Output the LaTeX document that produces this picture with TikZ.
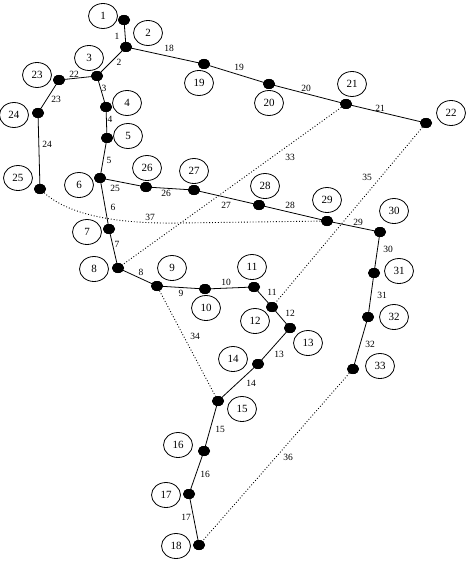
\documentclass[tikz,border=0pt]{standalone}
\usepackage{fontspec}
\setmainfont{Liberation Serif}
\usetikzlibrary{shapes.geometric}
\begin{document}
\begin{tikzpicture}[x=1pt,y=-1pt,
  bus/.style={ellipse,fill=black,minimum width=12pt,minimum height=10pt,inner sep=0pt},
  tag/.style={ellipse,draw,line width=0.8pt,minimum width=29pt,minimum height=25pt,inner sep=0pt,font=\fontsize{11}{12}\selectfont},
  br/.style={line width=0.8pt},
  tie/.style={dotted,line width=0.9pt},
  el/.style={font=\fontsize{9.5}{10}\selectfont,inner sep=0pt}]
\useasboundingbox (0,0) rectangle (474,567);
% buses
\node[bus] (b1) at (124,20) {};
\node[bus] (b2) at (126,47) {};
\node[bus] (b3) at (97,76) {};
\node[bus] (b4) at (106,107) {};
\node[bus] (b5) at (107,138) {};
\node[bus] (b6) at (100,178) {};
\node[bus] (b7) at (109,229) {};
\node[bus] (b8) at (118,268) {};
\node[bus] (b9) at (157,286) {};
\node[bus] (b10) at (205,289) {};
\node[bus] (b11) at (254,287) {};
\node[bus] (b12) at (272,307) {};
\node[bus] (b13) at (290,328) {};
\node[bus] (b14) at (258,364) {};
\node[bus] (b15) at (218,401) {};
\node[bus] (b16) at (204,451) {};
\node[bus] (b17) at (189,494) {};
\node[bus] (b18) at (199,545) {};
\node[bus] (b19) at (204,64) {};
\node[bus] (b20) at (269,84) {};
\node[bus] (b21) at (346,104) {};
\node[bus] (b22) at (426,123) {};
\node[bus] (b23) at (59,80) {};
\node[bus] (b24) at (38,113) {};
\node[bus] (b25) at (40,189) {};
\node[bus] (b26) at (146,187) {};
\node[bus] (b27) at (194,190) {};
\node[bus] (b28) at (259,205) {};
\node[bus] (b29) at (327,221) {};
\node[bus] (b30) at (380,232) {};
\node[bus] (b31) at (374,273) {};
\node[bus] (b32) at (368,317) {};
\node[bus] (b33) at (353,369) {};
% bus number tags
\node[tag] (l1) at (103,16) {1};
\node[tag] (l2) at (148,33) {2};
\node[tag] (l3) at (89,58) {3};
\node[tag] (l4) at (127,103) {4};
\node[tag] (l5) at (128,136) {5};
\node[tag] (l6) at (79,185) {6};
\node[tag] (l7) at (87,232) {7};
\node[tag] (l8) at (94,269) {8};
\node[tag] (l9) at (172,268) {9};
\node[tag] (l10) at (206,308) {10};
\node[tag] (l11) at (252,267) {11};
\node[tag] (l12) at (255,321) {12};
\node[tag] (l13) at (308,343) {13};
\node[tag] (l14) at (233,359) {14};
\node[tag] (l15) at (242,409) {15};
\node[tag] (l16) at (178,445) {16};
\node[tag] (l17) at (166,495) {17};
\node[tag] (l18) at (176,546) {18};
\node[tag] (l19) at (199,83) {19};
\node[tag] (l20) at (269,103) {20};
\node[tag] (l21) at (352,84) {21};
\node[tag] (l22) at (451,113) {22};
\node[tag] (l23) at (37,75) {23};
\node[tag] (l24) at (14,115) {24};
\node[tag] (l25) at (18,178) {25};
\node[tag] (l26) at (147,168) {26};
\node[tag] (l27) at (194,171) {27};
\node[tag] (l28) at (265,186) {28};
\node[tag] (l29) at (327,200) {29};
\node[tag] (l30) at (394,211) {30};
\node[tag] (l31) at (399,271) {31};
\node[tag] (l32) at (394,317) {32};
\node[tag] (l33) at (380,366) {33};
% branches
\draw[br] (b1.center) -- (b2.center) -- (b3.center) -- (b4.center) -- (b5.center) -- (b6.center) -- (b7.center) -- (b8.center) -- (b9.center) -- (b10.center) -- (b11.center) -- (b12.center) -- (b13.center) -- (b14.center) -- (b15.center) -- (b16.center) -- (b17.center) -- (b18.center);
\draw[br] (b2.center) -- (b19.center) -- (b20.center) -- (b21.center) -- (b22.center);
\draw[br] (b3.center) -- (b23.center) -- (b24.center) -- (b25.center);
\draw[br] (b6.center) -- (b26.center) -- (b27.center) -- (b28.center) -- (b29.center) -- (b30.center) -- (b31.center) -- (b32.center) -- (b33.center);
% tie lines
\draw[tie] (b21) -- (b8);
\draw[tie] (b9) -- (b15);
\draw[tie] (b22) -- (b12);
\draw[tie] (b33) -- (b18);
\draw[tie] (b25) .. controls (70,216) and (120,224) .. (180,223) -- (b29);
% bus dots on top
\foreach \i in {1,...,33} {\fill (b\i) ellipse (6pt and 5pt);}
% branch labels
\node[el] (e1) at (117,36) {1};
\node[el] (e2) at (119,62) {2};
\node[el] (e3) at (104,88) {3};
\node[el] (e4) at (110,119) {4};
\node[el] (e5) at (109,160) {5};
\node[el] (e6) at (113,207) {6};
\node[el] (e7) at (117,244) {7};
\node[el] (e8) at (141,272) {8};
\node[el] (e9) at (181,293) {9};
\node[el] (e10) at (226,282) {10};
\node[el] (e11) at (272,292) {11};
\node[el] (e12) at (290,313) {12};
\node[el] (e13) at (279,354) {13};
\node[el] (e14) at (251,383) {14};
\node[el] (e15) at (220,429) {15};
\node[el] (e16) at (205,474) {16};
\node[el] (e17) at (186,517) {17};
\node[el] (e18) at (169,48) {18};
\node[el] (e19) at (239,67) {19};
\node[el] (e20) at (306,88) {20};
\node[el] (e21) at (380,108) {21};
\node[el] (e22) at (74,74) {22};
\node[el] (e23) at (56,99) {23};
\node[el] (e24) at (47,144) {24};
\node[el] (e25) at (115,188) {25};
\node[el] (e26) at (166,193) {26};
\node[el] (e27) at (226,205) {27};
\node[el] (e28) at (290,205) {28};
\node[el] (e29) at (358,222) {29};
\node[el] (e30) at (388,249) {30};
\node[el] (e31) at (382,295) {31};
\node[el] (e32) at (370,344) {32};
\node[el] (e33) at (290,157) {33};
\node[el] (e34) at (195,336) {34};
\node[el] (e35) at (367,177) {35};
\node[el] (e36) at (288,457) {36};
\node[el] (e37) at (150,217) {37};
\end{tikzpicture}
\end{document}
